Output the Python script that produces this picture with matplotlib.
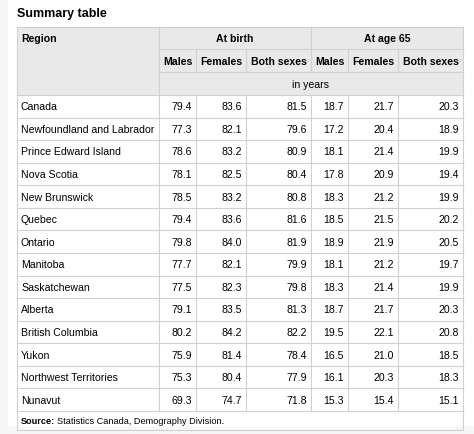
import matplotlib.pyplot as plt
from matplotlib.patches import Rectangle

regions = ["Canada", "Newfoundland and Labrador", "Prince Edward Island", "Nova Scotia",
           "New Brunswick", "Quebec", "Ontario", "Manitoba", "Saskatchewan", "Alberta",
           "British Columbia", "Yukon", "Northwest Territories", "Nunavut"]
birth_males = [79.4, 77.3, 78.6, 78.1, 78.5, 79.4, 79.8, 77.7, 77.5, 79.1, 80.2, 75.9, 75.3, 69.3]
birth_females = [83.6, 82.1, 83.2, 82.5, 83.2, 83.6, 84.0, 82.1, 82.3, 83.5, 84.2, 81.4, 80.4, 74.7]
birth_both = [81.5, 79.6, 80.9, 80.4, 80.8, 81.6, 81.9, 79.9, 79.8, 81.3, 82.2, 78.4, 77.9, 71.8]
age65_males = [18.7, 17.2, 18.1, 17.8, 18.3, 18.5, 18.9, 18.1, 18.3, 18.7, 19.5, 16.5, 16.1, 15.3]
age65_females = [21.7, 20.4, 21.4, 20.9, 21.2, 21.5, 21.9, 21.2, 21.4, 21.7, 22.1, 21.0, 20.3, 15.4]
age65_both = [20.3, 18.9, 19.9, 19.4, 19.9, 20.2, 20.5, 19.7, 19.9, 20.3, 20.8, 18.5, 18.3, 15.1]
sub_headers = ["Males", "Females", "Both sexes", "Males", "Females", "Both sexes"]

columns = [birth_males, birth_females, birth_both, age65_males, age65_females, age65_both]

plt.rcParams["font.family"] = ["Liberation Sans", "DejaVu Sans"]
fig = plt.figure(figsize=(4.74, 4.35), dpi=100)
ax = fig.add_axes([0, 0, 1, 1])
ax.set_xlim(0, 474)
ax.set_ylim(435, 0)
ax.axis("off")
fig.patch.set_facecolor("#f7f7f7")
ax.add_patch(Rectangle((8, 0), 466, 427, fc="white", ec="none"))

xs = [17, 159, 196, 246, 311, 348, 398, 463]
top, hdr1, hdr2, hdr3 = 28, 50, 73, 96
rowh = (412 - 96) / len(regions)
bottom = 431
grid = "#d0d0d0"
hdrbg = "#e9e9e9"
fs = 7.6

# header background
ax.add_patch(Rectangle((xs[0], top), xs[-1] - xs[0], hdr3 - top, fc=hdrbg, ec="none"))
ax.text(xs[0], 14, "Summary table", fontsize=9, fontweight="bold", va="center")
ax.text(xs[0] + 4, 39, "Region", fontsize=fs, fontweight="bold", va="center")
ax.text((xs[1] + xs[4]) / 2, 39, "At birth", fontsize=fs, fontweight="bold", va="center", ha="center")
ax.text((xs[4] + xs[7]) / 2, 39, "At age 65", fontsize=fs, fontweight="bold", va="center", ha="center")
for i, h in enumerate(sub_headers):
    ax.text((xs[i + 1] + xs[i + 2]) / 2, 62, h, fontsize=fs, fontweight="bold", va="center", ha="center")
ax.text((xs[1] + xs[7]) / 2, 84.5, "in years", fontsize=fs, va="center", ha="center")

for r, name in enumerate(regions):
    yc = hdr3 + rowh * (r + 0.5)
    ax.text(xs[0] + 4, yc, name, fontsize=fs, va="center")
    for c, col in enumerate(columns):
        ax.text(xs[c + 2] - 4, yc, f"{col[r]:.1f}", fontsize=fs, va="center", ha="right")

ax.text(xs[0] + 4, 421.5, "Source:", fontsize=6.6, fontweight="bold", va="center")
ax.text(57, 421.5, "Statistics Canada, Demography Division.", fontsize=6.6, va="center")

# grid lines
lw = 0.8
ax.plot([xs[0], xs[-1], xs[-1], xs[0], xs[0]], [top, top, bottom, bottom, top], color=grid, lw=lw)
ax.plot([xs[1], xs[-1]], [hdr1, hdr1], color=grid, lw=lw)
ax.plot([xs[1], xs[-1]], [hdr2, hdr2], color=grid, lw=lw)
for r in range(len(regions) + 1):
    y = hdr3 + rowh * r
    ax.plot([xs[0], xs[-1]], [y, y], color=grid, lw=lw)
ax.plot([xs[1], xs[1]], [top, hdr3 + rowh * len(regions)], color=grid, lw=lw)
ax.plot([xs[4], xs[4]], [top, hdr2], color=grid, lw=lw)
for x in xs[2:-1]:
    ax.plot([x, x], [hdr1, hdr2], color=grid, lw=lw)
    ax.plot([x, x], [hdr3, hdr3 + rowh * len(regions)], color=grid, lw=lw)

fig.savefig("out.png", dpi=100)
